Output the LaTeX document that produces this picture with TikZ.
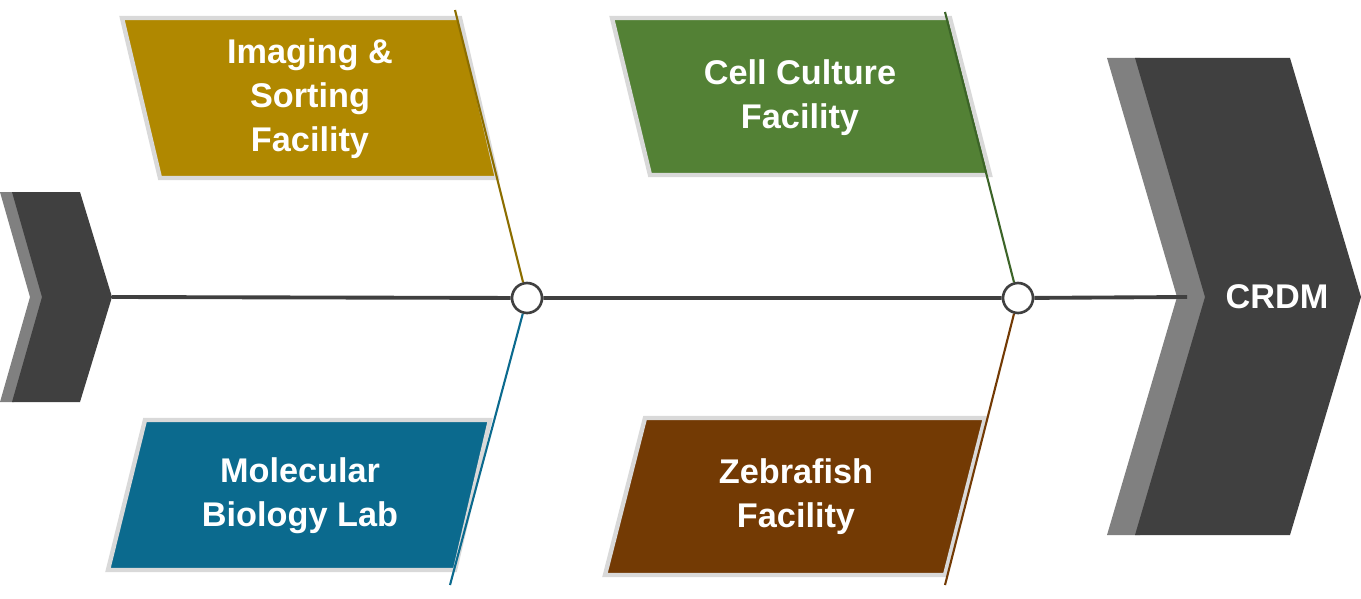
\documentclass[tikz,border=0pt]{standalone}
\usepackage{fontspec}
\setmainfont{Liberation Sans}
\begin{document}
\begin{tikzpicture}[x=0.02cm,y=-0.02cm,
  box/.style={draw=white!85!black,line width=2.5pt},
  lbl/.style={text=white,font=\bfseries\fontsize{19.5}{25}\selectfont,align=center},
  branch/.style={line width=1.2pt},
  hub/.style={circle,draw=black!75,fill=white,line width=1.5pt,minimum size=0.6cm,inner sep=0pt}]
\useasboundingbox (0,0) rectangle (1361,598);
% chevrons
\fill[black!50] (0,192)--(14,192)--(44,297)--(14,402)--(0,402)--(30,297)--cycle;
\fill[black!75] (12,192)--(80,192)--(112,297)--(80,402)--(12,402)--(42,297)--cycle;
\fill[black!50] (1107,58)--(1140,58)--(1210,297)--(1140,535)--(1107,535)--(1177,297)--cycle;
\fill[black!75] (1135,58)--(1290,58)--(1361,297)--(1290,535)--(1135,535)--(1205,297)--cycle;
\node[lbl] (crdm) at (1277,297) {CRDM};
% spine
\coordinate (tail) at (112,297);
\coordinate (head) at (1187,297);
\node[hub] (h1) at (527,298) {};
\node[hub] (h2) at (1018,298) {};
\draw[black!75,line width=2.2pt] (tail) -- (h1) -- (h2) -- (head);
% boxes
\fill[box,fill={rgb,255:red,176;green,136;blue,0}] (122,18)--(460,18)--(497,178)--(160,178)--cycle;
\node[lbl] (img) at (310,99) {Imaging \&\\Sorting\\Facility};
\fill[box,fill={rgb,255:red,83;green,129;blue,53}] (612,18)--(950,18)--(990,175)--(650,175)--cycle;
\node[lbl] (cell) at (800,98) {Cell Culture\\Facility};
\fill[box,fill={rgb,255:red,11;green,106;blue,142}] (145,420)--(490,420)--(455,570)--(108,570)--cycle;
\node[lbl] (mol) at (300,496) {Molecular\\Biology Lab};
\fill[box,fill={rgb,255:red,115;green,58;blue,4}] (645,418)--(985,418)--(945,575)--(605,575)--cycle;
\node[lbl] (zeb) at (796,497) {Zebrafish\\Facility};
% branches
\coordinate (b1) at (455,10);
\coordinate (b2) at (450,585);
\coordinate (b3) at (945,12);
\coordinate (b4) at (945,585);
\draw[branch,color={rgb,255:red,140;green,110;blue,0}] (b1) -- (h1);
\draw[branch,color={rgb,255:red,11;green,106;blue,142}] (h1) -- (b2);
\draw[branch,color={rgb,255:red,60;green,100;blue,40}] (b3) -- (h2);
\draw[branch,color={rgb,255:red,115;green,58;blue,4}] (h2) -- (b4);
\end{tikzpicture}
\end{document}
